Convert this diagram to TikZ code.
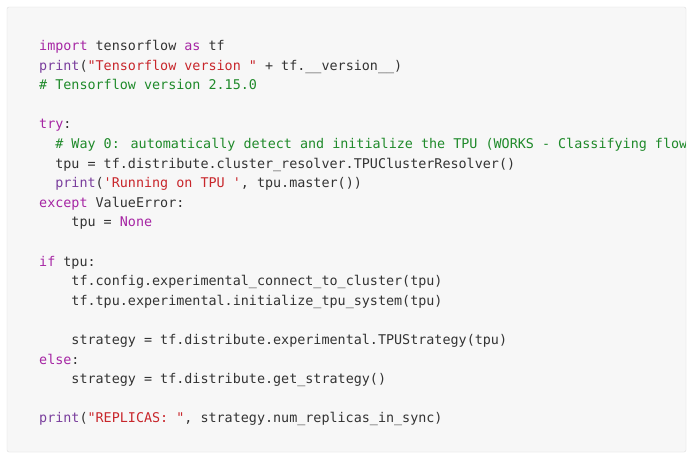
\documentclass[tikz,border=0pt]{standalone}
\usepackage{fontspec}
\newfontfamily\code{DejaVu Sans Mono}
\definecolor{kw}{HTML}{A626A4}
\definecolor{fn}{HTML}{7A3E9D}
\definecolor{st}{HTML}{C8262B}
\definecolor{cm}{HTML}{1F8A2A}
\definecolor{tx}{HTML}{333333}
\definecolor{bg}{HTML}{F7F7F7}
\definecolor{bd}{HTML}{DDDDDD}
\newcommand{\K}[1]{\textcolor{kw}{#1}}
\newcommand{\F}[1]{\textcolor{fn}{#1}}
\newcommand{\St}[1]{\textcolor{st}{#1}}
\newcommand{\Cm}[1]{\textcolor{cm}{#1}}
\begin{document}
\begin{tikzpicture}[x=1pt,y=-1pt,
  ln/.style={anchor=base west,inner sep=0pt,font=\code\fontsize{13.4}{16}\selectfont,text=tx}]
\fill[white] (0,0) rectangle (694,459);
\draw[bd,fill=bg,rounded corners=2pt] (7,7) rectangle (686,452);
\begin{scope}
\clip (7.5,7.5) rectangle (685.5,451.5);
\node[ln] (l1) at (39,50.5) {\K{import} tensorflow \K{as} tf};
\node[ln] (l2) at (39,70.1) {\F{print}(\St{"Tensorflow version "} + tf.\_\_version\_\_)};
\node[ln] (l3) at (39,89.7) {\Cm{\# Tensorflow version 2.15.0}};
\node[ln] (l5) at (39,128.9) {\K{try}:};
\node[ln] (l6) at (55.14,148.5) {\Cm{\# Way 0: automatically detect and initialize the TPU (WORKS - Classifying flowers)}};
\node[ln] (l7) at (55.14,168.1) {tpu = tf.distribute.cluster\_resolver.TPUClusterResolver()};
\node[ln] (l8) at (55.14,187.7) {\F{print}(\St{'Running on TPU '}, tpu.master())};
\node[ln] (l9) at (39,207.3) {\K{except} ValueError:};
\node[ln] (l10) at (71.28,226.9) {tpu = \K{None}};
\node[ln] (l12) at (39,266.1) {\K{if} tpu:};
\node[ln] (l13) at (71.28,285.7) {tf.config.experimental\_connect\_to\_cluster(tpu)};
\node[ln] (l14) at (71.28,305.3) {tf.tpu.experimental.initialize\_tpu\_system(tpu)};
\node[ln] (l16) at (71.28,344.5) {strategy = tf.distribute.experimental.TPUStrategy(tpu)};
\node[ln] (l17) at (39,364.1) {\K{else}:};
\node[ln] (l18) at (71.28,383.7) {strategy = tf.distribute.get\_strategy()};
\node[ln] (l20) at (39,422.9) {\F{print}(\St{"REPLICAS: "}, strategy.num\_replicas\_in\_sync)};
\end{scope}
\end{tikzpicture}
\end{document}
